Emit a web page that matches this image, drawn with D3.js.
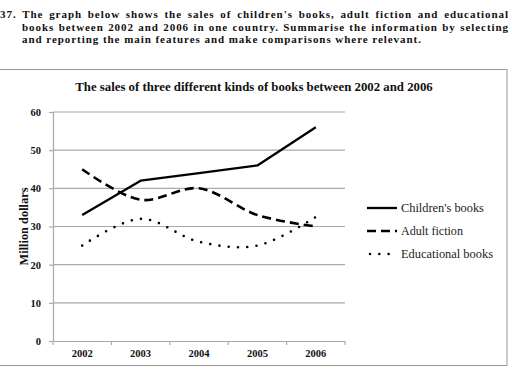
<!DOCTYPE html>
<html><head><meta charset="utf-8">
<script src="https://cdn.jsdelivr.net/npm/d3@7"></script>
<style>body{margin:0;background:#fff}svg{display:block}</style>
</head><body>
<script>
const years = ["2002","2003","2004","2005","2006"];
const children = [33, 42, 44, 46, 56];
const adult = [45, 37, 40, 33, 30];
const educational = [25, 32, 26, 25, 32.5];
const yTicks = [0,10,20,30,40,50,60];
const seriesNames = ["Children's books","Adult fiction","Educational books"];
const questionLines = [
 "37. The graph below shows the sales of children's books, adult fiction and educational",
 "books between 2002 and 2006 in one country. Summarise the information by selecting",
 "and reporting the main features and make comparisons where relevant."
];
const chartTitle = "The sales of three different kinds of books between 2002 and 2006";
const yTitle = "Million dollars";

const W=512,H=373;
const svg=d3.select("body").append("svg").attr("width",W).attr("height",H);
const serif="'Liberation Serif', serif";

function fit(el, width){
  const s=+el.attr("font-size");
  const len=el.node().getComputedTextLength();
  el.attr("font-size",(s*width/len).toFixed(2));
  return el;
}

// question text: same size & letter-spacing, first two lines justified
const q=[{x:0,y:18,w:509},{x:22,y:30.5,w:487},{x:22,y:43,w:400}];
const qEls=questionLines.map((t,i)=>svg.append("text").attr("x",q[i].x).attr("y",q[i].y).text(t)
   .attr("font-family",serif).attr("font-weight","bold").attr("font-size",11).attr("fill","#111"));
const len3=qEls[2].node().getComputedTextLength();
const ls=Math.max(0,(q[2].w-len3)/questionLines[2].length);
qEls.forEach((el,i)=>{
  el.attr("letter-spacing",ls.toFixed(2));
  if(i<2){
    const len=el.node().getComputedTextLength();
    const spaces=(questionLines[i].match(/ /g)||[]).length;
    el.attr("word-spacing",((q[i].w-len)/spaces).toFixed(2));
  }
});

// frame
svg.append("rect").attr("x",-1).attr("y",69.5).attr("width",508).attr("height",296)
  .attr("fill","none").attr("stroke","#999").attr("stroke-width",1);

fit(svg.append("text").attr("x",254).attr("y",91).attr("text-anchor","middle").text(chartTitle)
  .attr("font-family",serif).attr("font-weight","bold").attr("font-size",12).attr("fill","#111"),358);

const x=d3.scaleBand().domain(years).range([53,345]);
const y=d3.scaleLinear().domain([0,60]).range([341,112]);
const cx=d=>x(d)+x.bandwidth()/2;

// gridlines
svg.append("g").selectAll("line").data(yTicks.filter(d=>d>0)).join("line")
  .attr("x1",53).attr("x2",345).attr("y1",d=>y(d)).attr("y2",d=>y(d))
  .attr("stroke","#aaa").attr("stroke-width",1.2);

const ya=svg.append("g").attr("transform","translate(53,0)")
  .call(d3.axisLeft(y).tickValues(yTicks).tickSize(4).tickPadding(8));
ya.select(".domain").attr("stroke","#aaa").attr("stroke-width",1.2);
ya.selectAll(".tick line").attr("stroke","#aaa").attr("stroke-width",1.2);
ya.selectAll("text").attr("font-family",serif).attr("font-weight","bold").attr("font-size",10.5).attr("fill","#111");

const xa=svg.append("g").attr("transform","translate(0,341)")
  .call(d3.axisBottom(x).tickSize(0).tickPadding(9));
xa.select(".domain").attr("stroke","#aaa").attr("stroke-width",1.2);
xa.selectAll(".tick line").remove();
xa.selectAll("text").attr("font-family",serif).attr("font-weight","bold").attr("font-size",10.5).attr("fill","#111");
svg.append("g").selectAll("line").data(d3.range(years.length+1)).join("line")
  .attr("x1",i=>53+i*x.step()).attr("x2",i=>53+i*x.step()).attr("y1",341).attr("y2",345)
  .attr("stroke","#aaa").attr("stroke-width",1.2);

fit(svg.append("text").attr("transform","translate(28,226.5) rotate(-90)").attr("text-anchor","middle")
  .text(yTitle).attr("font-family",serif).attr("font-weight","bold").attr("font-size",12).attr("fill","#111"),78);

const styles=[
  {data:children,dash:null,cap:"butt",curve:d3.curveLinear,w:2.3},
  {data:adult,dash:"9,5",cap:"butt",curve:d3.curveCatmullRom.alpha(0.5),w:2.6},
  {data:educational,dash:"0,9.3",cap:"round",curve:d3.curveCatmullRom.alpha(0.5),w:2.6}
];
styles.forEach(s=>{
  const line=d3.line().x((d,i)=>cx(years[i])).y(d=>y(d)).curve(s.curve);
  const p=svg.append("path").datum(s.data).attr("d",line).attr("fill","none")
    .attr("stroke","#000").attr("stroke-width",s.w).attr("stroke-linecap",s.cap).attr("stroke-linejoin","round");
  if(s.dash) p.attr("stroke-dasharray",s.dash);
});

// legend
const ly=[208,231,254];
const lw=[83,62,92];
seriesNames.forEach((n,i)=>{
  const s=styles[i];
  const l=svg.append("line").attr("x1",s.cap==="round"?370:367).attr("x2",397).attr("y1",ly[i]).attr("y2",ly[i])
    .attr("stroke","#000").attr("stroke-width",s.w).attr("stroke-linecap",s.cap);
  if(s.dash) l.attr("stroke-dasharray",s.dash);
  fit(svg.append("text").attr("x",401).attr("y",ly[i]+4).text(n)
    .attr("font-family",serif).attr("font-size",12).attr("fill","#222"),lw[i]);
});
</script>
</body></html>
